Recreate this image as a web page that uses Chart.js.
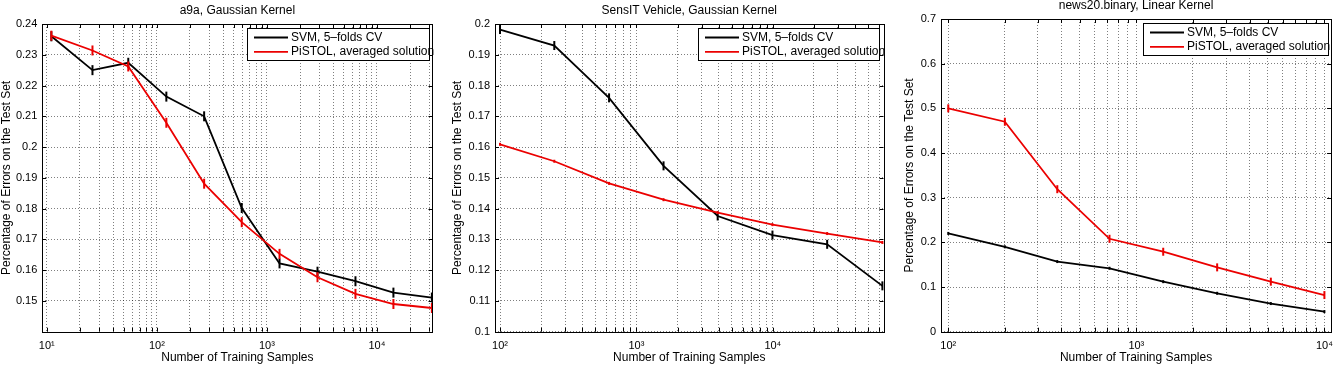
<!DOCTYPE html>
<html><head><meta charset="utf-8">
<script src="https://cdn.jsdelivr.net/npm/chart.js@4.4.1/dist/chart.umd.min.js"></script>
<style>
html,body{margin:0;padding:0;background:#fff;}
body{width:1341px;height:365px;position:relative;overflow:hidden;}
.p{position:absolute;top:0;height:365px;}
</style></head><body>
<div class="p" style="left:0;width:445px"><canvas id="c1"></canvas></div>
<div class="p" style="left:445px;width:445px"><canvas id="c2"></canvas></div>
<div class="p" style="left:890px;width:451px"><canvas id="c3"></canvas></div>
<script>
// ---------- data ----------
const seriesLabels = ['SVM, 5–folds CV', 'PiSTOL, averaged solution'];
const xAxisLabel = 'Number of Training Samples';
const yAxisLabel = 'Percentage of Errors on the Test Set';
const xTickLabels = {1: '10¹', 2: '10²', 3: '10³', 4: '10⁴'};

const a9aTitle = 'a9a, Gaussian Kernel';
const a9aSamples = [11, 26, 55, 122, 269, 591, 1303, 2884, 6383, 14125, 31590];
const a9aSVM     = [0.2360, 0.2250, 0.2274, 0.2164, 0.2100, 0.1802, 0.1622, 0.1595, 0.1564, 0.1527, 0.1511];
const a9aPiSTOL  = [0.2362, 0.2314, 0.2262, 0.2079, 0.1881, 0.1756, 0.1653, 0.1577, 0.1523, 0.1490, 0.1477];
const a9aYTicks  = [0.15, 0.16, 0.17, 0.18, 0.19, 0.20, 0.21, 0.22, 0.23, 0.24];

const sensTitle = 'SensIT Vehicle, Gaussian Kernel';
const sensSamples = [100, 250, 630, 1580, 3940, 9930, 25000, 63500];
const sensSVM     = [0.1982, 0.1930, 0.1760, 0.1539, 0.1376, 0.1314, 0.1284, 0.1149];
const sensPiSTOL  = [0.1609, 0.1554, 0.1482, 0.1429, 0.1387, 0.1348, 0.1319, 0.1290];
const sensYTicks  = [0.10, 0.11, 0.12, 0.13, 0.14, 0.15, 0.16, 0.17, 0.18, 0.19, 0.20];

const newsTitle = 'news20.binary, Linear Kernel';
const newsSamples = [100, 200, 380, 720, 1390, 2690, 5190, 10000];
const newsSVM     = [0.220, 0.190, 0.157, 0.142, 0.112, 0.086, 0.063, 0.045];
const newsPiSTOL  = [0.500, 0.470, 0.319, 0.208, 0.179, 0.144, 0.112, 0.082];
const newsYTicks  = [0, 0.1, 0.2, 0.3, 0.4, 0.5, 0.6, 0.7];

// ---------- rendering ----------
const FONT = '"Liberation Sans", Arial, Helvetica, sans-serif';
Chart.defaults.font.family = FONT;
Chart.defaults.color = '#000';
const RED = 'rgb(235,0,0)';
const GRID = 'rgba(0,0,0,0.5)';

const matlabBox = {
  id: 'matlabBox',
  afterDatasetsDraw(chart, args, opts) {
    const {ctx, chartArea: a, scales: {x, y}} = chart;
    ctx.save();
    ctx.strokeStyle = '#000';
    ctx.lineWidth = 1;
    ctx.beginPath();
    x.ticks.forEach(t => {
      const px = Math.round(x.getPixelForValue(t.value)) + 0.5;
      ctx.moveTo(px, a.bottom); ctx.lineTo(px, a.bottom - 4);
      ctx.moveTo(px, a.top); ctx.lineTo(px, a.top + 4);
    });
    y.ticks.forEach(t => {
      const py = Math.round(y.getPixelForValue(t.value)) + 0.5;
      ctx.moveTo(a.left, py); ctx.lineTo(a.left + 4, py);
      ctx.moveTo(a.right, py); ctx.lineTo(a.right - 4, py);
    });
    ctx.stroke();
    ctx.strokeRect(Math.round(a.left) + 0.5, Math.round(a.top) + 0.5,
                   Math.round(a.right - a.left), Math.round(a.bottom - a.top));
    // title
    ctx.fillStyle = '#000';
    ctx.font = '12px ' + FONT;
    ctx.textAlign = 'center';
    ctx.textBaseline = 'middle';
    ctx.fillText(opts.title, (a.left + a.right) / 2, a.top - 13.3);
    // legend
    const bw = opts.legendWidth, bh = 32;
    const bx = Math.round(a.right - opts.legendInset - bw), by = Math.round(a.top + 4);
    ctx.fillStyle = '#fff';
    ctx.fillRect(bx, by, bw, bh);
    ctx.strokeStyle = '#000';
    ctx.lineWidth = 1;
    ctx.strokeRect(bx + 0.5, by + 0.5, bw, bh);
    chart.data.datasets.forEach((ds, i) => {
      const yy = by + 9.5 + i * 14.3;
      ctx.strokeStyle = ds.borderColor;
      ctx.lineWidth = ds.borderWidth;
      ctx.beginPath(); ctx.moveTo(bx + 7, yy); ctx.lineTo(bx + 41, yy); ctx.stroke();
      ctx.fillStyle = '#000';
      ctx.textAlign = 'left';
      ctx.fillText(ds.label, bx + 44, yy);
    });
    ctx.restore();
  }
};

function makePanel(id, p) {
  const ds = (label, ys, color, r, order) => ({
    label, data: p.x.map((v, i) => ({x: v, y: ys[i]})),
    borderColor: color, backgroundColor: color, borderWidth: 1.8,
    pointStyle: 'line', rotation: 90, pointRadius: r, pointBorderWidth: 2,
    pointBorderColor: color, order, clip: false, tension: 0
  });
  return new Chart(document.getElementById(id), {
    type: 'line',
    data: {datasets: [ds(seriesLabels[0], p.svm, '#000', p.rSvm, 1),
                      ds(seriesLabels[1], p.pis, RED, p.rPis, 0)]},
    options: {
      responsive: true, maintainAspectRatio: false, animation: false, events: [],
      layout: {padding: {top: p.top, right: p.right, left: 0, bottom: 0}},
      plugins: {legend: {display: false}, tooltip: {enabled: false},
                matlabBox: {title: p.title, legendWidth: p.legendWidth, legendInset: p.legendInset}},
      scales: {
        x: {
          type: 'logarithmic', min: p.xmin, max: p.xmax,
          afterBuildTicks: s => {
            const t = [];
            for (let e = Math.floor(Math.log10(s.min)); e <= Math.ceil(Math.log10(s.max)); e++)
              for (let m = 1; m < 10; m++) {
                const v = m * Math.pow(10, e);
                if (v >= s.min && v <= s.max) t.push({value: v});
              }
            s.ticks = t;
          },
          afterFit: s => { s.height = 365 - p.bottom; },
          grid: {color: GRID, drawTicks: false, lineWidth: 1},
          border: {display: false, dash: [1, 2]},
          ticks: {
            autoSkip: false, maxRotation: 0, minRotation: 0, padding: 8,
            font: {size: 11},
            callback: v => {
              const e = Math.log10(v);
              return Math.abs(e - Math.round(e)) < 1e-9 ? (xTickLabels[Math.round(e)] || '') : '';
            }
          },
          title: {display: true, text: xAxisLabel, font: {size: 12}, padding: {top: 0, bottom: 0}}
        },
        y: {
          type: 'linear', min: p.ymin, max: p.ymax,
          afterBuildTicks: s => { s.ticks = p.yTicks.map(v => ({value: v})); },
          afterFit: s => { s.width = p.left; },
          grid: {color: GRID, drawTicks: false, lineWidth: 1},
          border: {display: false, dash: [1, 2]},
          ticks: {padding: 5, font: {size: 11}, callback: v => String(+Number(v).toFixed(2))},
          title: {display: true, text: yAxisLabel, font: {size: 12, lineHeight: 1},
                  padding: {top: p.yTitlePad, bottom: 0}}
        }
      }
    },
    plugins: [matlabBox]
  });
}

makePanel('c1', {
  title: a9aTitle, x: a9aSamples, svm: a9aSVM, pis: a9aPiSTOL, yTicks: a9aYTicks,
  xmin: 9.1, xmax: 32000, ymin: 0.14, ymax: 0.24,
  left: 42.3, top: 24, right: 12.5, bottom: 331.7, yTitlePad: 0.3,
  legendWidth: 182, legendInset: 4, rSvm: 5, rPis: 5
});
makePanel('c2', {
  title: sensTitle, x: sensSamples, svm: sensSVM, pis: sensPiSTOL, yTicks: sensYTicks,
  xmin: 91.9, xmax: 64700, ymin: 0.1, ymax: 0.2,
  left: 50, top: 24, right: 5.7, bottom: 331.7, yTitlePad: 6.3,
  legendWidth: 181, legendInset: 5, rSvm: 4.5, rPis: 1.5
});
makePanel('c3', {
  title: newsTitle, x: newsSamples, svm: newsSVM, pis: newsPiSTOL, yTicks: newsYTicks,
  xmin: 91.5, xmax: 10850, ymin: 0, ymax: 0.7,
  left: 51, top: 19, right: 7, bottom: 331.7, yTitlePad: 13.5,
  legendWidth: 185, legendInset: 3, rSvm: 1.5, rPis: 4
});
</script>
</body></html>
